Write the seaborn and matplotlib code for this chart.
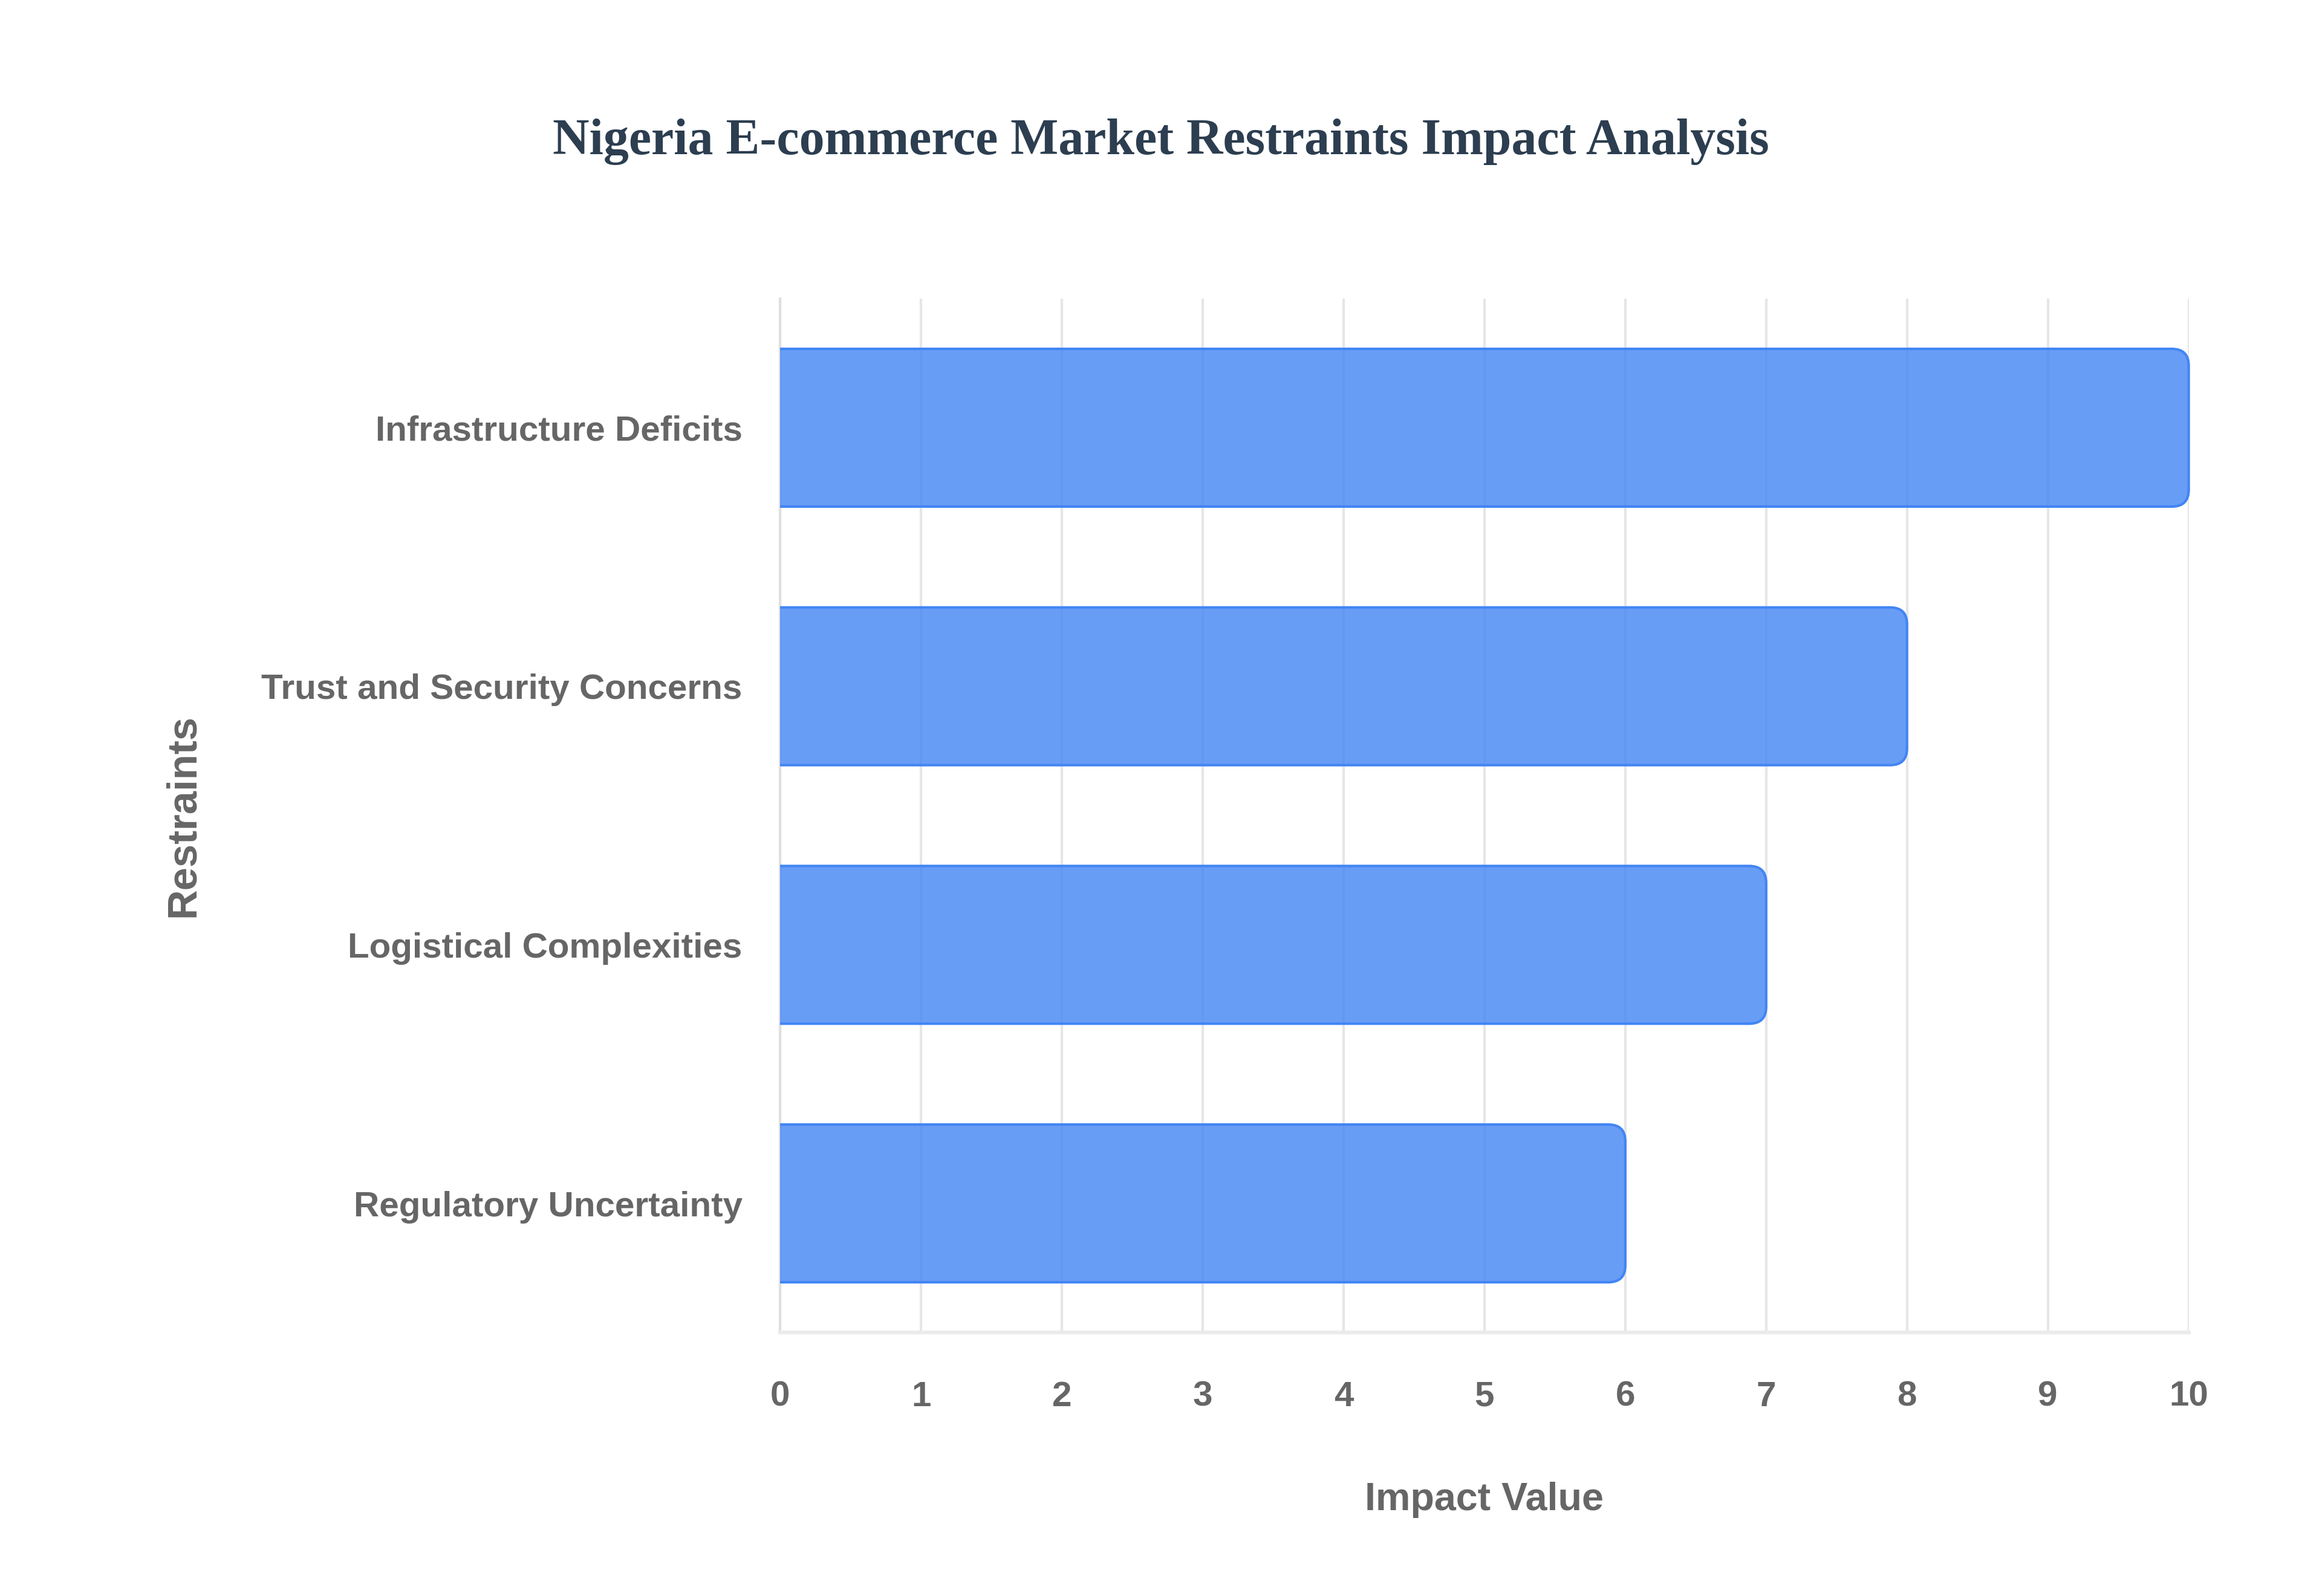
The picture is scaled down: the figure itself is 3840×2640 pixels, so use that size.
import seaborn as sns
import matplotlib.pyplot as plt
import matplotlib.patches as mpatches

restraints = ["Infrastructure Deficits", "Trust and Security Concerns",
              "Logistical Complexities", "Regulatory Uncertainty"]
impact = [10, 8, 7, 6]
x_ticks = list(range(0, 11))

sns.set_style("white")
plt.rcParams['font.family'] = ['Liberation Sans', 'DejaVu Sans']

fig = plt.figure(figsize=(12.8, 8.8), dpi=300)
ax = fig.add_axes([0.336, 0.165, 0.6066, 0.648])

bar_fill = (66 / 255, 133 / 255, 244 / 255, 0.8)
bar_edge = '#4285F4'
sns.barplot(x=impact, y=restraints, orient='h', width=0.61, color='#4285F4',
            saturation=1, ax=ax, zorder=3)

ax.set_xlim(0, 10)
ax.set_ylim(3.5, -0.5)

# rounded right ends: rebuild each seaborn bar as a rounded box, left end hidden at x<0
r = 0.12
asp = 0.542
clip = mpatches.Rectangle((0, -5), 50, 20, transform=ax.transData)
for p in list(ax.patches):
    x, y = p.get_x(), p.get_y()
    w, h = p.get_width(), p.get_height()
    p.remove()
    box = mpatches.FancyBboxPatch((x - 0.5, y), w + 0.5, h,
                                  boxstyle=f"round,pad=0,rounding_size={r}",
                                  mutation_aspect=asp, facecolor=bar_fill,
                                  edgecolor=bar_edge, linewidth=1.0, zorder=3)
    ax.add_patch(box)
    box.set_clip_path(clip)

ax.set_xticks(x_ticks)
ax.grid(axis='x', color='#e6e6e6', linewidth=1.0, zorder=0)
ax.grid(axis='y', visible=False)
for s in ['top', 'right']:
    ax.spines[s].set_visible(False)
ax.spines['left'].set_color('#e0e0e0')
ax.spines['left'].set_linewidth(1.0)
ax.spines['bottom'].set_color('#ebebeb')
ax.spines['bottom'].set_linewidth(1.5)

ax.tick_params(axis='x', length=6, width=1.0, color='#e6e6e6', pad=13,
               labelsize=14, labelcolor='#666666')
ax.tick_params(axis='y', length=0, pad=15, labelsize=14, labelcolor='#666666')
for lab in ax.get_xticklabels() + ax.get_yticklabels():
    lab.set_fontweight('bold')

ax.set_xlabel('Impact Value', fontsize=15.5, fontweight='bold', color='#666666')
ax.set_ylabel('Restraints', fontsize=16.5, fontweight='bold', color='#666666')
ax.xaxis.set_label_coords(0.5, -0.144)
ax.yaxis.set_label_coords(-0.41, 0.5)

fig.text(0.5, 0.911, 'Nigeria E-commerce Market Restraints Impact Analysis',
         ha='center', va='center', fontsize=20.1, fontweight='bold',
         family=['Liberation Serif', 'DejaVu Serif'], color='#2c3e50')

fig.savefig('out.png', dpi=300, facecolor='white')
